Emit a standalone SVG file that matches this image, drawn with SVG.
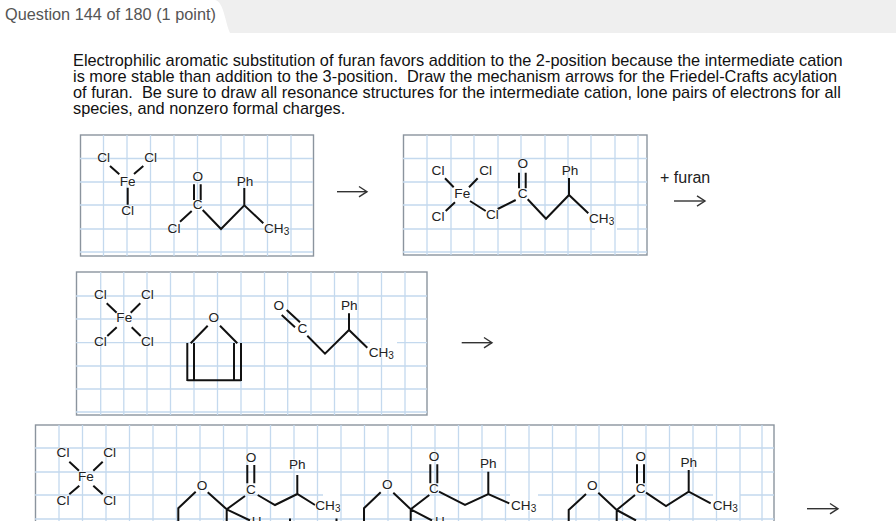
<svg xmlns="http://www.w3.org/2000/svg" width="896" height="521" viewBox="0 0 896 521">
<style>
text{font-family:"Liberation Sans",Arial,sans-serif}
.p{font-size:16.33px;fill:#111;white-space:pre}
.l{font-size:13.6px;fill:#222;text-anchor:middle;paint-order:stroke;stroke:#fff;stroke-width:1px;transform:translateY(-0.8px)}
.s{text-anchor:start}
.b{fill:none;stroke:#111;stroke-width:2;stroke-linejoin:miter}
.g{fill:none;stroke:#c4d9ee;stroke-width:1.3}
.f{fill:#fff;stroke:#8b949e;stroke-width:1.4}
.a{fill:none;stroke:#333;stroke-width:1.4;marker-end:url(#ah)}
tspan.u{font-size:10px}
</style>
<defs>
<marker id="ah" markerUnits="userSpaceOnUse" markerWidth="12" markerHeight="14" refX="10" refY="7" orient="auto" overflow="visible">
<path d="M2 1.8L10 7L2 12.2" fill="none" stroke="#333" stroke-width="1.4"/>
</marker>
</defs>
<rect width="896" height="521" fill="#fff"/>
<path d="M215 0H896V33H230C225 22 224 2 215 0Z" fill="#efefef"/>
<text x="5" y="20" style="font-size:16.3px;fill:#555">Question 144 of 180 (1 point)</text>
<g id="prompt">
<text class="p" x="73" y="66">Electrophilic aromatic substitution of furan favors addition to the 2-position because the intermediate cation</text>
<text class="p" x="73" y="81.5">is more stable than addition to the 3-position.  Draw the mechanism arrows for the Friedel-Crafts acylation</text>
<text class="p" x="73" y="97.5">of furan.  Be sure to draw all resonance structures for the intermediate cation, lone pairs of electrons for all</text>
<text class="p" x="73" y="114">species, and nonzero formal charges.</text>
</g>

<g id="panel-1">
<rect class="f" x="80.5" y="135" width="233" height="121"/>
<path class="g" d="M103.5 135V256M127 135V256M150.5 135V256M174 135V256M197.500 135V256M221 135V256M244 135V256M267.500 135V256M291 135V256M80 158.500H313M80 182H313M80 205H313M80 229H313M80 252H313"/>
<path class="b" d="M110 166L119.300 174.300M134 174L143.300 166M127.700 187.700V204.700M194 184.300V200M200.700 184.300V200M180 221.700L191.700 211M202.700 210L221 229L244.300 205.300L263.300 223.300M244.300 188V205.300"/>
<g id="fecl3-1"><text class="l" x="103.700" y="162.800">Cl</text><text class="l" x="150.700" y="162.800">Cl</text><text class="l" x="127.700" y="186.500">Fe</text><text class="l" x="127.700" y="215.500">Cl</text></g>
<g id="acyl-chloride-1"><text class="l" x="197.700" y="181.500">O</text><text class="l" x="197.700" y="209.800">C</text><text class="l" x="174" y="233.500">Cl</text><text class="l" x="245" y="186.500">Ph</text><text class="l s" x="264" y="233.500">CH<tspan class="u" dy="2">3</tspan></text></g>
</g>

<g id="panel-2">
<rect class="f" x="403.500" y="135" width="243.500" height="120"/>
<path class="g" d="M427 135V255M451 135V255M474 135V255M498 135V255M521 135V255M545 135V255M568 135V255M591 135V255M615 135V255M638 135V255M403 158.500H647M403 182H647M403 205H647M403 229H595M617 229H647M403 252H647"/>
<path class="b" d="M445 178.300L453.700 187.300M469 187.300L477.700 178.300M445.700 211L455 202.300M470 201L485.700 211M497.700 209L515.700 200M519 172.700V188.300M525.700 172.700V188.300M527.700 199.300L546 218.700L569 195L588.300 213.300M569 178V195"/>
<g id="complex-2"><text class="l" x="438" y="175.500">Cl</text><text class="l" x="485.700" y="175.500">Cl</text><text class="l" x="462.300" y="198.800">Fe</text><text class="l" x="438" y="222">Cl</text><text class="l" x="492.300" y="219.800">Cl</text><text class="l" x="522.700" y="169">O</text><text class="l" x="522.700" y="199">C</text><text class="l" x="570" y="175.500">Ph</text><text class="l s" x="589" y="224">CH<tspan class="u" dy="2">3</tspan></text></g>
</g>
<text x="660" y="182.500" style="font-size:16px;fill:#222">+ furan</text>

<g id="panel-3">
<rect class="f" x="76.500" y="272" width="350.500" height="143"/>
<path class="g" d="M100.700 272V415M123.800 272V415M147 272V415M170.500 272V415M194 272V415M217.500 272V415M241 272V415M264.500 272V415M287.700 272V415M311 272V415M334.500 272V415M358 272V415M381.500 272V415M405 272V415M76 296H427M76 319H427M76 342.700H370M397 342.700H427M76 366H427M76 389H427M76 412H427"/>
<path class="b" d="M106.700 303.300L116.700 312.700M130.700 312.700L140.300 303.300M107.300 336L116.700 327.300M131.700 327.300L140.700 336M207.700 325.700L190.700 343.300M220 325.700L237.300 343.300M187.300 343V381M194 343V380.300M234 343V380.300M241 343V381M187.300 380.300H241M281.700 315L295 327.300M286.700 310L300 322.300M307.300 335.700L325 353.700L349 330L367.300 347.700M349 313.300V330"/>
<g id="fecl4-3"><text class="l" x="100.300" y="300">Cl</text><text class="l" x="147.300" y="300">Cl</text><text class="l" x="124.300" y="323">Fe</text><text class="l" x="100.300" y="347">Cl</text><text class="l" x="147.300" y="347">Cl</text></g>
<g id="furan-3"><text class="l" x="213.700" y="323">O</text></g>
<g id="acylium-3"><text class="l" x="278.700" y="310.800">O</text><text class="l" x="302.300" y="334">C</text><text class="l" x="349.300" y="310.800">Ph</text><text class="l s" x="368.700" y="358">CH<tspan class="u" dy="2">3</tspan></text></g>
</g>

<g id="panel-4">
<rect class="f" x="35.500" y="425" width="738.500" height="100"/>
<path class="g" d="M59 425V521M82.500 425V521M106 425V521M129.500 425V521M153 425V521M176.500 425V521M200 425V521M223.500 425V521M247 425V521M270.500 425V521M294 425V521M317.500 425V521M341 425V521M364.500 425V521M388 425V521M411.500 425V521M435 425V521M458.500 425V521M482 425V521M505.500 425V521M529 425V521M552.500 425V521M576 425V521M599 425V521M622.500 425V521M646 425V521M669.500 425V521M693 425V521M716.500 425V521M740 425V521M762 425V521M35 448H774M35 472H774M35 495H323M340 495H510M538 495H713M740 495H774M35 519H774"/>
<path class="b" d="M69.300 461.700L79 470.700M93.300 470.700L102.700 461.700M69.300 494.300L79.300 485.700M93.300 485.700L102.700 494.300"/>
<path class="b" d="M195.700 491.700L178.300 508.300V522M207.700 492.300L226.700 509.300L245 496M226.700 509.300V522M226.700 509.300L250 520.500M247.300 465V483.300M254.300 465V483.300M257.700 495L275 505L297.300 494L315 505M297.300 475V494M290 518.500V522"/>
<path class="b" d="M380.700 492.300L364 508.300V522M393.300 492.700L410.700 509.300L429.300 495M410.700 509.300V522M410.700 509.300L432 520.500M430.300 464.300V483.300M437.300 464.300V483.300M439 491.700L465 505L488.300 494L509.300 503.300M488.300 471.700V494M336.500 518.500V522"/>
<path class="b" d="M586 494L568.700 510V522M598.300 492.700L616.700 510L635 495M616.700 510V522M616.700 510L636 520.500M637 464.300V483.300M644 464.300V483.300M646 492.700L666 506L688.700 491.700L710.700 503.300M688.700 470V491.700"/>
<g id="fecl4-4"><text class="l" x="63" y="458">Cl</text><text class="l" x="109.700" y="458">Cl</text><text class="l" x="86" y="482">Fe</text><text class="l" x="63" y="505.500">Cl</text><text class="l" x="109.700" y="505.500">Cl</text></g>
<g id="intermediate-a"><text class="l" x="202" y="490.500">O</text><text class="l" x="251" y="494.800">C</text><text class="l" x="251" y="462.800">O</text><text class="l" x="297.300" y="469.800">Ph</text><text class="l s" x="315.300" y="510.500">CH<tspan class="u" dy="2">3</tspan></text><text class="l" x="256.700" y="527">H</text></g>
<g id="intermediate-b"><text class="l" x="387.300" y="489.800">O</text><text class="l" x="434" y="494">C</text><text class="l" x="434" y="461.500">O</text><text class="l" x="488.300" y="468.800">Ph</text><text class="l s" x="511" y="510.500">CH<tspan class="u" dy="2">3</tspan></text><text class="l" x="440" y="527">H</text></g>
<g id="intermediate-c"><text class="l" x="592.300" y="490.800">O</text><text class="l" x="640.700" y="494">C</text><text class="l" x="640.700" y="461.500">O</text><text class="l" x="688.700" y="467.500">Ph</text><text class="l s" x="712.700" y="510.500">CH<tspan class="u" dy="2">3</tspan></text></g>
</g>

<g id="connectors">
<path class="a" d="M337 191.700H367"/>
<path class="a" d="M674 201H705"/>
<path class="a" d="M461.700 342.700H492"/>
<path class="a" d="M807 508.700H838"/>
</g>
</svg>
